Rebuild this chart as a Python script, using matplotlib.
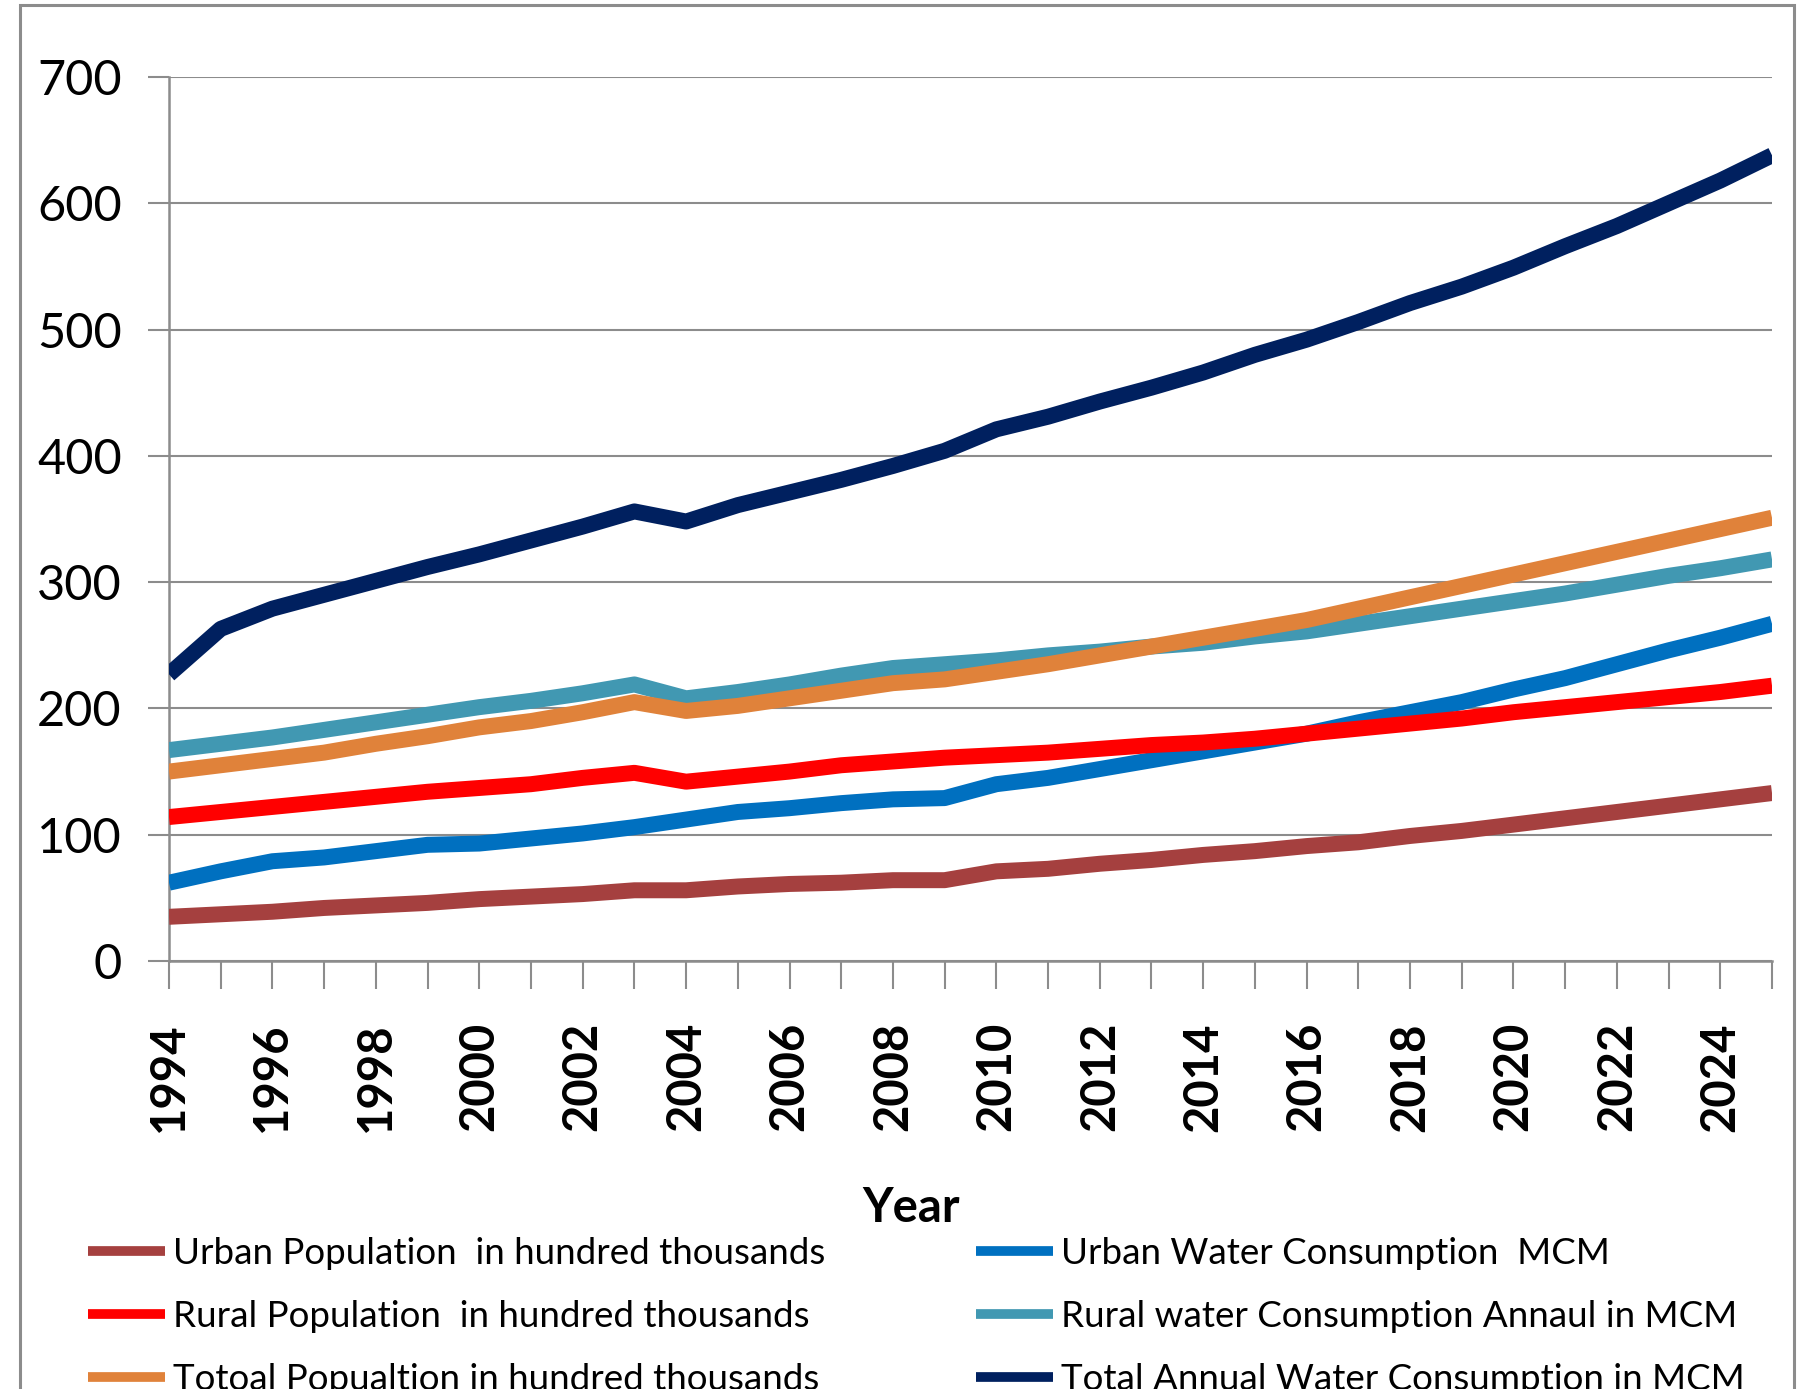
import matplotlib
matplotlib.use("Agg")
import matplotlib.pyplot as plt
from matplotlib.patches import Rectangle

plt.rcParams["font.family"] = ["Lato", "DejaVu Sans"]

YEARS = list(range(1994, 2026))

URBAN_POP   = [35, 37, 39, 42, 44, 46, 49, 51, 53, 56, 56, 59, 61, 62, 64, 64,
               71, 73, 77, 80, 84, 87, 91, 94, 99, 103, 108, 113, 118, 123, 128, 133]
RURAL_POP   = [114, 118, 122, 126, 130, 134, 137, 140, 145, 149, 142, 146, 150, 155, 158, 161,
               163, 165, 168, 171, 173, 176, 180, 184, 188, 192, 197, 201, 205, 209, 213, 218]
TOTAL_POP   = [150, 155, 160, 165, 172, 178, 185, 190, 197, 205, 198, 202, 208, 214, 220, 223,
               229, 235, 242, 249, 256, 263, 270, 279, 288, 297, 306, 315, 324, 333, 342, 351]
URBAN_WATER = [62, 71, 79, 82, 87, 92, 93, 97, 101, 106, 112, 118, 121, 125, 128, 129,
               140, 145, 152, 159, 166, 173, 180, 189, 197, 205, 215, 224, 235, 246, 256, 267]
RURAL_WATER = [167, 172, 177, 183, 189, 195, 201, 206, 212, 219, 208, 213, 219, 226, 232, 235,
               238, 242, 245, 249, 252, 257, 261, 267, 273, 279, 285, 291, 298, 305, 311, 318]
TOTAL_WATER = [227, 263, 279, 290, 301, 312, 322, 333, 344, 356, 348, 361, 371, 381, 392, 404,
               421, 431, 443, 454, 466, 480, 492, 506, 521, 534, 549, 566, 582, 600, 618, 638]

LABELS = {
    "urban_pop":   "Urban Population  in hundred thousands",
    "rural_pop":   "Rural Population  in hundred thousands",
    "total_pop":   "Totoal Popualtion in hundred thousands",
    "urban_water": "Urban Water Consumption  MCM",
    "rural_water": "Rural water Consumption Annaul in MCM",
    "total_water": "Total Annual Water Consumption in MCM",
}
COLORS = {
    "urban_pop":   "#A5403F",
    "rural_pop":   "#FF0000",
    "total_pop":   "#E0823A",
    "urban_water": "#0070C0",
    "rural_water": "#4198B2",
    "total_water": "#00205F",
}
SERIES = {
    "urban_pop": URBAN_POP, "rural_pop": RURAL_POP, "total_pop": TOTAL_POP,
    "urban_water": URBAN_WATER, "rural_water": RURAL_WATER, "total_water": TOTAL_WATER,
}

W, H = 1809, 1389
fig = plt.figure(figsize=(W / 100, H / 100), dpi=100)
ax = fig.add_axes([169 / W, 1 - 961 / H, (1772 - 169) / W, (961 - 77) / H])

GRID = "#8C8C8C"
lines = {}
for key in ["urban_pop", "urban_water", "rural_pop", "rural_water", "total_pop", "total_water"]:
    (ln,) = ax.plot(YEARS, SERIES[key], color=COLORS[key], lw=11.5,
                    solid_joinstyle="round", solid_capstyle="butt", zorder=3)
    lines[key] = ln

ax.set_xlim(1994, 2025)
ax.set_ylim(0, 700)
ax.set_yticks(range(0, 701, 100))
ax.yaxis.grid(True, color=GRID, lw=1.5)
ax.set_axisbelow(True)
ax.set_xticks(YEARS)
ax.set_xticklabels([str(y) if y % 2 == 0 else "" for y in YEARS],
                   rotation=90, fontsize=34, fontweight="bold")
ax.tick_params(axis="x", length=20, width=1.5, color=GRID, pad=24)
ax.tick_params(axis="y", length=15, width=1.5, color=GRID, pad=19, labelsize=35)
for s in ["top", "right"]:
    ax.spines[s].set_visible(False)
for s in ["left", "bottom"]:
    ax.spines[s].set_color(GRID)
    ax.spines[s].set_linewidth(1.8)

ax.set_xlabel("Year", fontsize=34, fontweight="bold")
ax.xaxis.set_label_coords(0.463, -0.255)

leg_kw = dict(frameon=False, fontsize=26.5, handlelength=2.1, handletextpad=0.2,
              labelspacing=0.82, borderpad=0, borderaxespad=0, loc="upper left")
col1 = ["urban_pop", "rural_pop", "total_pop"]
col2 = ["urban_water", "rural_water", "total_water"]
for cols, x0 in [(col1, 88), (col2, 976)]:
    leg = fig.legend([lines[k] for k in cols], [LABELS[k] for k in cols],
                     bbox_to_anchor=(x0 / W, 1 - 1237 / H), **leg_kw)
    for h in leg.legend_handles:
        h.set_linewidth(7)

fig.patches.append(Rectangle((20 / W, -0.05), (1794 - 20) / W, 1.05 - 5 / H,
                             transform=fig.transFigure, fill=False,
                             edgecolor="#8C8C8C", lw=2.2))

fig.savefig("out.png", dpi=100)
